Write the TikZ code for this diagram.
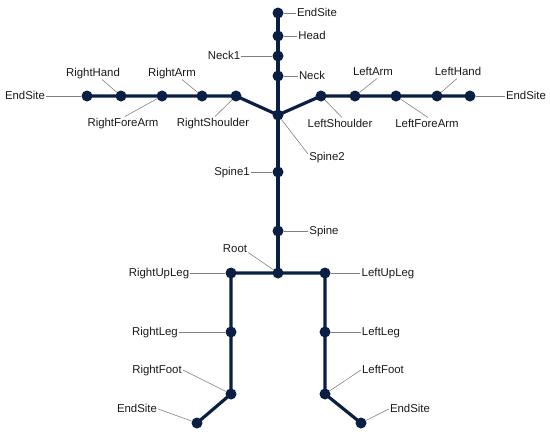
\documentclass[tikz,border=0pt]{standalone}
\usepackage{fontspec}
\setmainfont{Liberation Sans}
\definecolor{navy}{HTML}{0B1F45}
\definecolor{leadgray}{HTML}{808080}
\tikzset{
  jt/.style={circle,fill=navy,inner sep=0pt,minimum size=11pt},
  bone/.style={draw=navy,line width=3.2pt,line join=round},
  lbl/.style={inner sep=1pt,text height=8.3pt,text depth=2.3pt,text=black!90,font=\fontsize{11.4}{13}\selectfont},
  leader/.style={draw=leadgray,line width=0.6pt}
}
\begin{document}
\begin{tikzpicture}[x=1pt,y=-1pt]
\useasboundingbox (0,0) rectangle (550,434);
% joint positions
\coordinate (cEndT) at (278,13);
\coordinate (cHead) at (278,36);
\coordinate (cNeckA) at (278,56);
\coordinate (cNeck) at (278,76);
\coordinate (cChest) at (278,115);
\coordinate (cSpineA) at (278,172);
\coordinate (cSpine) at (278,231);
\coordinate (cRoot) at (278,273);
\coordinate (cRS) at (236,96);
\coordinate (cRA) at (202,96);
\coordinate (cRFA) at (162,96);
\coordinate (cRH) at (121,96);
\coordinate (cEndL) at (87,96);
\coordinate (cLS) at (321,96);
\coordinate (cLA) at (355,96);
\coordinate (cLFA) at (396,96);
\coordinate (cLH) at (437,96);
\coordinate (cEndR) at (470,96);
\coordinate (cRUL) at (231,273);
\coordinate (cRL) at (231,332);
\coordinate (cRF) at (231,394);
\coordinate (cEndBL) at (197,423);
\coordinate (cLUL) at (325,273);
\coordinate (cLL) at (325,332);
\coordinate (cLF) at (325,394);
\coordinate (cEndBR) at (361,423);
% bones
\draw[bone] (cEndT) -- (cHead) -- (cNeckA) -- (cNeck) -- (cChest) -- (cSpineA) -- (cSpine) -- (cRoot);
\draw[bone] (cChest) -- (cRS) -- (cRA) -- (cRFA) -- (cRH) -- (cEndL);
\draw[bone] (cChest) -- (cLS) -- (cLA) -- (cLFA) -- (cLH) -- (cEndR);
\draw[bone] (cRoot) -- (cRUL) -- (cRL) -- (cRF) -- (cEndBL);
\draw[bone] (cRoot) -- (cLUL) -- (cLL) -- (cLF) -- (cEndBR);
% joints
\foreach \j in {EndT,Head,NeckA,Neck,Chest,SpineA,Spine,Root,RS,RA,RFA,RH,EndL,LS,LA,LFA,LH,EndR,RUL,RL,RF,EndBL,LUL,LL,LF,EndBR}
  \node[jt] (\j) at (c\j) {};
% labels
\node[lbl] (lEndT) at (317,13) {EndSite};
\node[lbl] (lHead) at (312,36) {Head};
\node[lbl] (lNeckA) at (224,56) {Neck1};
\node[lbl] (lNeck) at (312,76) {Neck};
\node[lbl] (lEndL) at (25,96) {EndSite};
\node[lbl] (lRH) at (93,73) {RightHand};
\node[lbl] (lRA) at (172,73) {RightArm};
\node[lbl] (lRFA) at (123,123) {RightForeArm};
\node[lbl] (lRS) at (213,123) {RightShoulder};
\node[lbl] (lLS) at (340,124) {LeftShoulder};
\node[lbl] (lLFA) at (427,124) {LeftForeArm};
\node[lbl] (lLA) at (373,72) {LeftArm};
\node[lbl] (lLH) at (458,72) {LeftHand};
\node[lbl] (lEndR) at (526,96) {EndSite};
\node[lbl] (lSpB) at (327,157) {Spine2};
\node[lbl] (lSpA) at (232,172) {Spine1};
\node[lbl] (lSp) at (324,231) {Spine};
\node[lbl] (lRoot) at (235,249) {Root};
\node[lbl] (lRUL) at (159,273) {RightUpLeg};
\node[lbl] (lLUL) at (388,273) {LeftUpLeg};
\node[lbl] (lRL) at (155,332) {RightLeg};
\node[lbl] (lLL) at (381,332) {LeftLeg};
\node[lbl] (lRF) at (157,370) {RightFoot};
\node[lbl] (lLF) at (383,370) {LeftFoot};
\node[lbl] (lEndBL) at (137,409) {EndSite};
\node[lbl] (lEndBR) at (410,409) {EndSite};
% leaders
\draw[leader] (lEndT.west) -- (EndT);
\draw[leader] (lHead.west) -- (Head);
\draw[leader] (lNeckA.east) -- (NeckA);
\draw[leader] (lNeck.west) -- (Neck);
\draw[leader] (lEndL.east) -- (EndL);
\draw[leader] ([xshift=9pt]lRH.south) -- (RH);
\draw[leader] ([xshift=10pt]lRA.south) -- (RA);
\draw[leader] ([xshift=2pt]lRFA.north) -- (RFA);
\draw[leader] ([xshift=2pt]lRS.north) -- (RS);
\draw[leader] ([xshift=2pt]lLS.north) -- (LS);
\draw[leader] ([xshift=1pt]lLFA.north) -- (LFA);
\draw[leader] ([xshift=4pt]lLA.south) -- (LA);
\draw[leader] ([xshift=-1pt]lLH.south) -- (LH);
\draw[leader] (lEndR.west) -- (EndR);
\draw[leader] ([yshift=3pt]lSpB.west) -- (Chest);
\draw[leader] (lSpA.east) -- (SpineA);
\draw[leader] (lSp.west) -- (Spine);
\draw[leader] ([yshift=3pt]lRoot.south east) -- (Root);
\draw[leader] (lRUL.east) -- (RUL);
\draw[leader] (lLUL.west) -- (LUL);
\draw[leader] (lRL.east) -- (RL);
\draw[leader] (lLL.west) -- (LL);
\draw[leader] (lRF.east) -- (RF);
\draw[leader] (lLF.west) -- (LF);
\draw[leader] (lEndBL.east) -- (EndBL);
\draw[leader] (lEndBR.west) -- (EndBR);
\end{tikzpicture}
\end{document}
